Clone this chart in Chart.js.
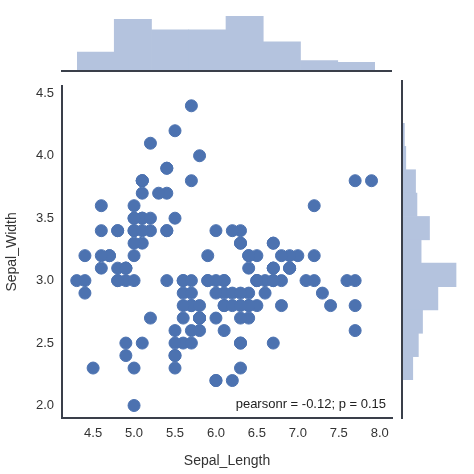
<!DOCTYPE html>
<html><head><meta charset="utf-8">
<script src="https://cdn.jsdelivr.net/npm/chart.js@4/dist/chart.umd.min.js"></script>
<style>
body{margin:0;background:#fff;width:474px;height:474px;position:relative;overflow:hidden;font-family:"Liberation Sans",Arial,sans-serif}
.c{position:absolute}
.line{position:absolute;background:#3a3f4a}
</style></head><body>
<div class="c" style="left:0;top:70px"><canvas id="main" width="400" height="404"></canvas></div>
<div class="c" style="left:77px;top:16px"><canvas id="top" width="298" height="55"></canvas></div>
<div class="c" style="left:403px;top:123px"><canvas id="right" width="60" height="257"></canvas></div>
<div class="line" style="left:61px;top:70px;width:331px;height:2px"></div>
<div class="line" style="left:401px;top:80px;width:2px;height:339px"></div>
<script>
const sepalLength=[5.1,4.9,4.7,4.6,5.0,5.4,4.6,5.0,4.4,4.9,5.4,4.8,4.8,4.3,5.8,5.7,5.4,5.1,5.7,5.1,5.4,5.1,4.6,5.1,4.8,5.0,5.0,5.2,5.2,4.7,4.8,5.4,5.2,5.5,4.9,5.0,5.5,4.9,4.4,5.1,5.0,4.5,4.4,5.0,5.1,4.8,5.1,4.6,5.3,5.0,
7.0,6.4,6.9,5.5,6.5,5.7,6.3,4.9,6.6,5.2,5.0,5.9,6.0,6.1,5.6,6.7,5.6,5.8,6.2,5.6,5.9,6.1,6.3,6.1,6.4,6.6,6.8,6.7,6.0,5.7,5.5,5.5,5.8,6.0,5.4,6.0,6.7,6.3,5.6,5.5,5.5,6.1,5.8,5.0,5.6,5.7,5.7,6.2,5.1,5.7,
6.3,5.8,7.1,6.3,6.5,7.6,4.9,7.3,6.7,7.2,6.5,6.4,6.8,5.7,5.8,6.4,6.5,7.7,7.7,6.0,6.9,5.6,7.7,6.3,6.7,7.2,6.2,6.1,6.4,7.2,7.4,7.9,6.4,6.3,6.1,7.7,6.3,6.4,6.0,6.9,6.7,6.9,5.8,6.8,6.7,6.7,6.3,6.5,6.2,5.9];
const sepalWidth=[3.5,3.0,3.2,3.1,3.6,3.9,3.4,3.4,2.9,3.1,3.7,3.4,3.0,3.0,4.0,4.4,3.9,3.5,3.8,3.8,3.4,3.7,3.6,3.3,3.4,3.0,3.4,3.5,3.4,3.2,3.1,3.4,4.1,4.2,3.1,3.2,3.5,3.1,3.0,3.4,3.5,2.3,3.2,3.5,3.8,3.0,3.8,3.2,3.7,3.3,
3.2,3.2,3.1,2.3,2.8,2.8,3.3,2.4,2.9,2.7,2.0,3.0,2.2,2.9,2.9,3.1,3.0,2.7,2.2,2.5,3.2,2.8,2.5,2.8,2.9,3.0,2.8,3.0,2.9,2.6,2.4,2.4,2.7,2.7,3.0,3.4,3.1,2.3,3.0,2.5,2.6,3.0,2.6,2.3,2.7,3.0,2.9,2.9,2.5,2.8,
3.3,2.7,3.0,2.9,3.0,3.0,2.5,2.9,2.5,3.6,3.2,2.7,3.0,2.5,2.8,3.2,3.0,3.8,2.6,2.2,3.2,2.8,2.8,2.7,3.3,3.2,2.8,3.0,2.8,3.0,2.8,3.8,2.8,2.8,2.6,3.0,3.4,3.1,3.0,3.1,3.1,3.1,2.7,3.2,3.3,3.0,2.5,3.0,3.4,3.0];
const xTicks=[4.5,5.0,5.5,6.0,6.5,7.0,7.5,8.0];
const yTicks=[2.0,2.5,3.0,3.5,4.0,4.5];
const lengthBins=['4.3','4.75','5.2','5.65','6.1','6.55','7.0','7.45'];
const lengthCounts=[11,30,24,24,32,17,6,5];
const widthBins=['4.22','4.04','3.85','3.67','3.49','3.30','3.12','2.93','2.75','2.57','2.38'];
const widthCounts=[1,2,9,10,19,13,38,25,14,11,7];
const annotation='pearsonr = -0.12; p = 0.15';

const FONT={family:'"Liberation Sans", Arial, sans-serif',size:13};
const BLUE='#4c72b0', HB='#b4c3de', TXT='#333333';
const points=sepalLength.map((x,i)=>({x,y:sepalWidth[i]}));
const annot={id:'annot',afterDraw(c){const ctx=c.ctx,a=c.chartArea;ctx.save();ctx.font='13px "Liberation Sans", Arial, sans-serif';ctx.fillStyle='#222';ctx.textAlign='right';ctx.textBaseline='alphabetic';ctx.fillText(annotation,a.right-6,a.bottom-10);ctx.restore();}};
new Chart(document.getElementById('main'),{type:'scatter',
 data:{datasets:[{data:points,backgroundColor:BLUE,borderColor:BLUE,pointRadius:6,pointHoverRadius:6}]},
 options:{responsive:false,animation:false,layout:{padding:{top:10,right:8}},
  plugins:{legend:{display:false},tooltip:{enabled:false}},
  scales:{
   x:{type:'linear',min:4.12,max:8.15,grid:{display:false,drawTicks:false},border:{color:'#3a3f4a',width:2},
      afterBuildTicks:s=>{s.ticks=xTicks.map(v=>({value:v}));},
      afterFit:s=>{s.height=56;},
      ticks:{color:TXT,font:FONT,padding:8,callback:v=>v.toFixed(1)},
      title:{display:true,text:'Sepal_Length',color:TXT,font:{...FONT,size:14},padding:{top:2}}},
   y:{type:'linear',min:1.9,max:4.56,grid:{display:false,drawTicks:false},border:{color:'#3a3f4a',width:2},
      afterBuildTicks:s=>{s.ticks=yTicks.map(v=>({value:v}));},
      afterFit:s=>{s.width=62;},
      ticks:{color:TXT,font:FONT,padding:8,callback:v=>v.toFixed(1)},
      title:{display:true,text:'Sepal_Width',color:TXT,font:{...FONT,size:14},padding:{bottom:4}}}}},
 plugins:[annot]});
new Chart(document.getElementById('top'),{type:'bar',
 data:{labels:lengthBins,datasets:[{data:lengthCounts,backgroundColor:HB,barPercentage:1,categoryPercentage:1}]},
 options:{responsive:false,animation:false,plugins:{legend:{display:false},tooltip:{enabled:false}},
  scales:{x:{display:false},y:{display:false,min:0,max:32}}}});
new Chart(document.getElementById('right'),{type:'bar',
 data:{labels:widthBins,datasets:[{data:widthCounts,backgroundColor:HB,barPercentage:1,categoryPercentage:1}]},
 options:{indexAxis:'y',responsive:false,animation:false,plugins:{legend:{display:false},tooltip:{enabled:false}},
  scales:{y:{display:false},x:{display:false,min:0,max:43}}}});
</script></body></html>
